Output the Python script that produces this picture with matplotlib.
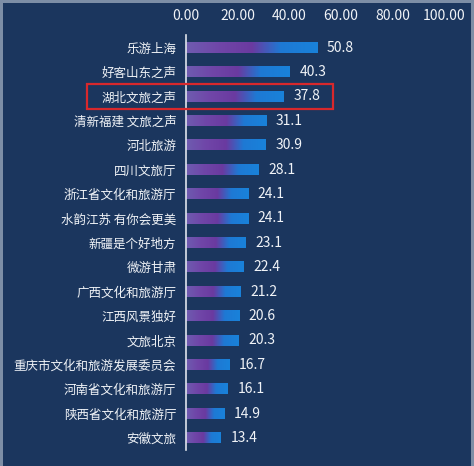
import numpy as np
import matplotlib
matplotlib.use("Agg")
import matplotlib.pyplot as plt
from matplotlib.colors import LinearSegmentedColormap
from matplotlib.patches import Rectangle

plt.rcParams['font.family'] = ['Noto Sans CJK SC', 'DejaVu Sans']

names = ['乐游上海', '好客山东之声', '湖北文旅之声', '清新福建 文旅之声', '河北旅游',
         '四川文旅厅', '浙江省文化和旅游厅', '水韵江苏 有你会更美', '新疆是个好地方',
         '微游甘肃', '广西文化和旅游厅', '江西风景独好', '文旅北京',
         '重庆市文化和旅游发展委员会', '河南省文化和旅游厅', '陕西省文化和旅游厅', '安徽文旅']
values = [50.8, 40.3, 37.8, 31.1, 30.9, 28.1, 24.1, 24.1, 23.1, 22.4,
          21.2, 20.6, 20.3, 16.7, 16.1, 14.9, 13.4]
xticks = [0, 20, 40, 60, 80, 100]
highlight = '湖北文旅之声'

bg = '#1b365e'
txt = '#f0f3f7'
bar_cmap = LinearSegmentedColormap.from_list(
    'bar', [(0.0, '#6e5cb0'), (0.25, '#7046a8'), (0.5, '#6a3aa0'),
            (0.72, '#1e79d4'), (1.0, '#1982da')])

fig = plt.figure(figsize=(4.74, 4.66), dpi=100)
fig.patch.set_facecolor('#7d8ea6')
fig.add_artist(Rectangle((3 / 474, 0), 468 / 474, 463 / 466, transform=fig.transFigure,
                         facecolor=bg, edgecolor='none', zorder=0))

ax = fig.add_axes([186 / 474, 15.8 / 466, 258 / 474, 414.7 / 466])
ax.set_facecolor(bg)
ax.patch.set_alpha(0)

grad = np.linspace(0, 1, 256).reshape(1, -1)
h = 0.42
for i, v in enumerate(values):
    ax.imshow(grad, cmap=bar_cmap, aspect='auto', interpolation='bilinear',
              extent=(0, v, i + h / 2, i - h / 2), zorder=2)
    ax.annotate(f'{v:.1f}', (v, i), xytext=(7, 0), textcoords='offset points',
                va='center', ha='left', color=txt, fontsize=10, fontweight='medium')

ax.set_xlim(0, 100)
ax.set_ylim(len(values) - 0.5, -0.5)
ax.set_yticks(range(len(values)))
ax.set_yticklabels(names, fontsize=9, color=txt, fontweight='medium')
ax.set_xticks(xticks)
ax.set_xticklabels([f'{t:.2f}' for t in xticks], fontsize=10, color=txt,
                   fontweight='medium')
ax.xaxis.tick_top()
ax.tick_params(axis='x', length=0, pad=9)
ax.tick_params(axis='y', length=0, pad=7)
for s in ['top', 'right', 'bottom']:
    ax.spines[s].set_visible(False)
ax.spines['left'].set_color('#dfe4ec')
ax.spines['left'].set_linewidth(1.2)
ax.spines['left'].set_zorder(3)

k = names.index(highlight)
ax.add_patch(Rectangle((-38.4, k - 0.51), 95.4, 1.02, fill=False, edgecolor='#d8282c',
                       linewidth=1.6, clip_on=False, zorder=4))

fig.savefig('out.png', dpi=100, facecolor=fig.get_facecolor())
